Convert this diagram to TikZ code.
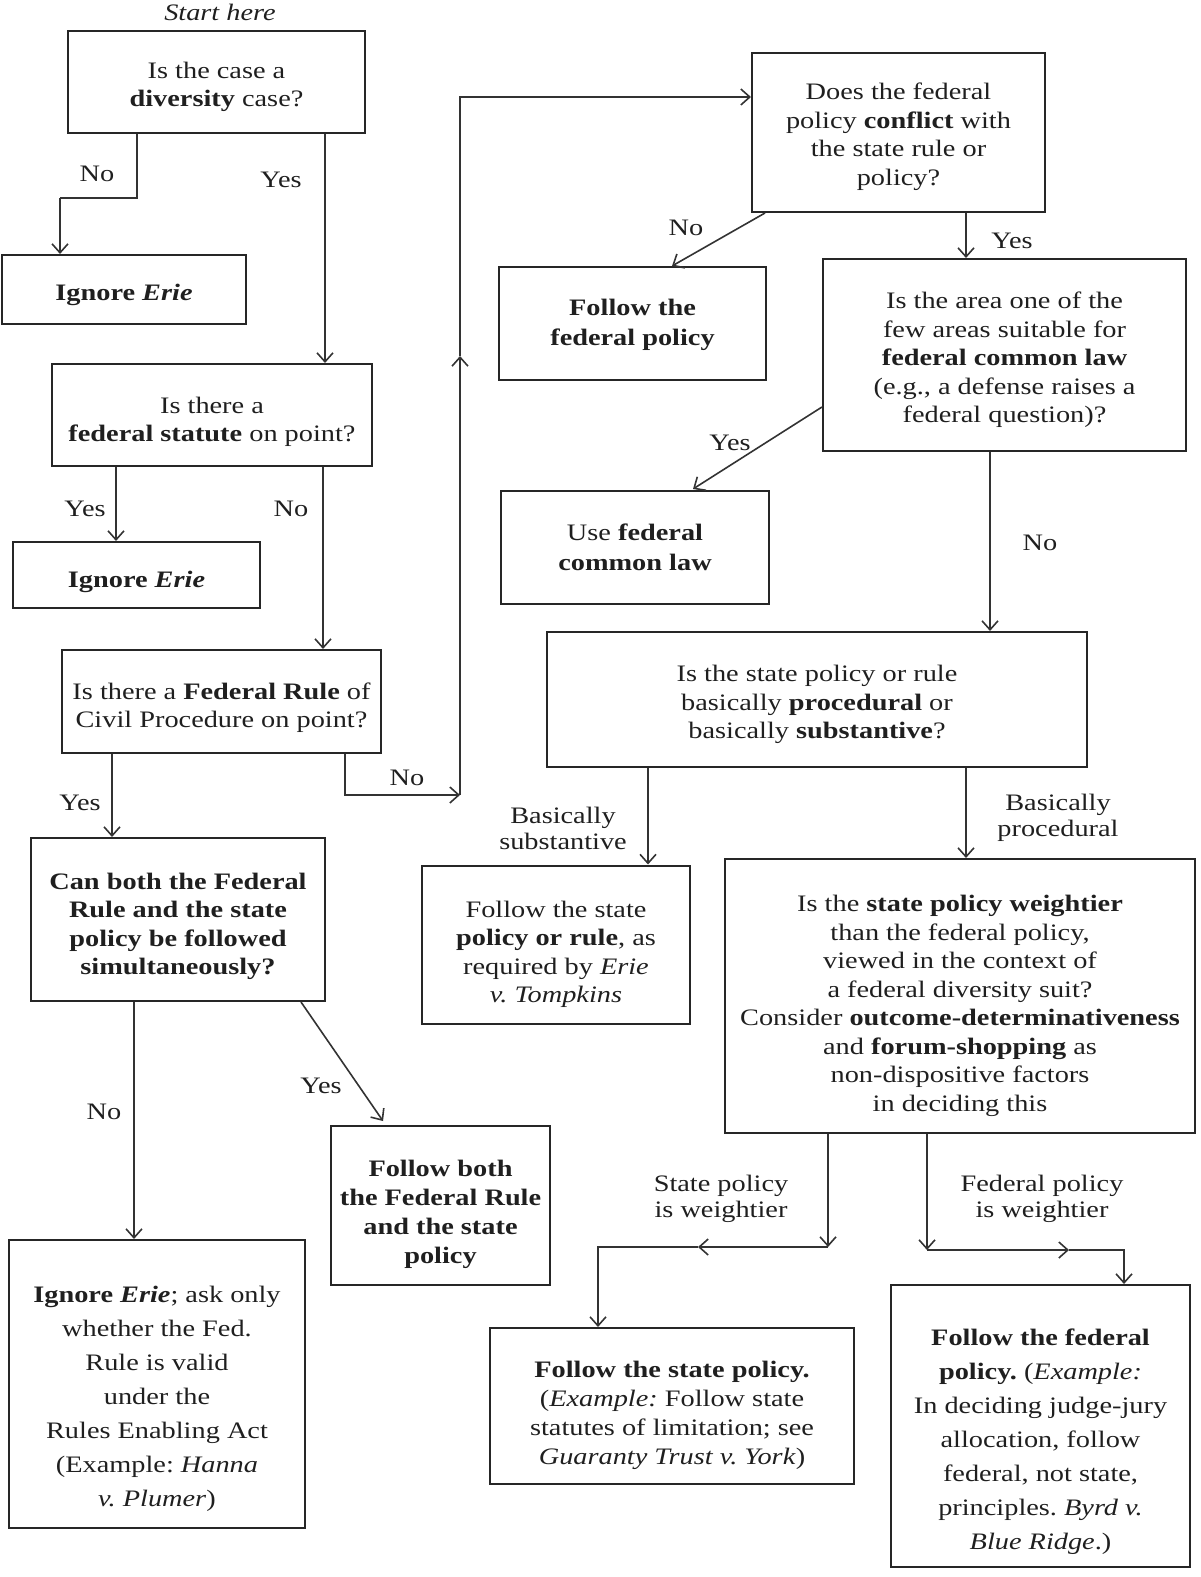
\documentclass[tikz,border=0pt]{standalone}
\usepackage{fontspec}
\setmainfont[FakeStretch=1.2]{Liberation Serif}
\usetikzlibrary{arrows.meta,calc}
\frenchspacing
\begin{document}
\begin{tikzpicture}[x=0.5pt,y=-0.5pt,
  every node/.style={font=\fontsize{11.8}{14.25}\selectfont, text=black!88},
  box/.style={draw=black!85, line width=1pt, inner sep=0pt},
  txt/.style={align=center, inner sep=0pt},
  wide/.style={font=\fontsize{11.8}{17}\selectfont},
  lbl/.style={align=center, inner sep=0pt, font=\fontsize{11.8}{13}\selectfont},
  conn/.style={draw=black!80, line width=0.8pt, -{Straight Barb[length=4.5pt,width=8pt]}},
  plain/.style={draw=black!80, line width=0.8pt}]
\useasboundingbox (0,0) rectangle (1200,1577);

% ---------- boxes ----------
\node[box, minimum width=148.5pt, minimum height=51pt] (A) at (216.5,82) {};
\node[box, minimum width=122pt, minimum height=34.5pt] (ign1) at (124,289.5) {};
\node[box, minimum width=160pt, minimum height=51pt] (B) at (212,415) {};
\node[box, minimum width=123.5pt, minimum height=33pt] (ign2) at (136.5,575) {};
\node[box, minimum width=159.5pt, minimum height=51.5pt] (C) at (221.5,701.5) {};
\node[box, minimum width=147pt, minimum height=81.5pt] (K) at (178,919.5) {};
\node[box, minimum width=148pt, minimum height=144pt] (L) at (157,1384) {};
\node[box, minimum width=109.5pt, minimum height=79.5pt] (M) at (440.5,1205.5) {};
\node[box, minimum width=146.5pt, minimum height=79.5pt] (D) at (898.5,132.5) {};
\node[box, minimum width=133.5pt, minimum height=56.5pt] (E) at (632.5,323.5) {};
\node[box, minimum width=181.5pt, minimum height=96pt] (F) at (1004.5,355) {};
\node[box, minimum width=134pt, minimum height=56.5pt] (G) at (635,547.5) {};
\node[box, minimum width=270pt, minimum height=67.5pt] (H) at (817,699.5) {};
\node[box, minimum width=134pt, minimum height=79pt] (I) at (556,944.5) {};
\node[box, minimum width=235pt, minimum height=137pt] (J) at (960,996) {};
\node[box, minimum width=182pt, minimum height=78pt] (N) at (672,1406) {};
\node[box, minimum width=149.5pt, minimum height=141pt] (O) at (1040.5,1426) {};

% ---------- box texts ----------
\node[lbl, font=\fontsize{11.8}{13}\selectfont\itshape] (start) at (220,12) {Start here};
\node[txt] (At) at ($(A)+(0,5)$) {Is the case a\\\textbf{diversity} case?};
\node[txt] (ign1t) at ($(ign1)+(0,5)$) {\textbf{Ignore \textit{Erie}}};
\node[txt] (Bt) at ($(B)+(0,7)$) {Is there a\\\textbf{federal statute} on point?};
\node[txt] (ign2t) at ($(ign2)+(0,7)$) {\textbf{Ignore \textit{Erie}}};
\node[txt] (Ct) at ($(C)+(0,6)$) {Is there a \textbf{Federal Rule} of\\Civil Procedure on point?};
\node[txt] (Kt) at ($(K)+(0,7)$)
  {\textbf{Can both the Federal}\\\textbf{Rule and the state}\\\textbf{policy be followed}\\\textbf{simultaneously?}};
\node[txt, wide] (Lt) at ($(L)+(0,15)$)
  {\textbf{Ignore \textit{Erie}}; ask only\\whether the Fed.\\Rule is valid\\under the\\Rules Enabling Act\\(Example: \textit{Hanna}\\\textit{v. Plumer})};
\node[txt, font=\fontsize{11.8}{14.5}\selectfont] (Mt) at ($(M)+(0,9)$)
  {\textbf{Follow both}\\\textbf{the Federal Rule}\\\textbf{and the state}\\\textbf{policy}};
\node[txt] (Dt) at ($(D)+(0,4)$)
  {Does the federal\\policy \textbf{conflict} with\\the state rule or\\policy?};
\node[txt, font=\fontsize{11.8}{15}\selectfont] (Et) at ($(E)+(0,1)$)
  {\textbf{Follow the}\\\textbf{federal policy}};
\node[txt] (Ft) at ($(F)+(0,5)$)
  {Is the area one of the\\few areas suitable for\\\textbf{federal common law}\\(e.g., a defense raises a\\federal question)?};
\node[txt, font=\fontsize{11.8}{15}\selectfont] (Gt) at ($(G)+(0,0)$)
  {Use \textbf{federal}\\\textbf{common law}};
\node[txt] (Ht) at ($(H)+(0,5)$)
  {Is the state policy or rule\\basically \textbf{procedural} or\\basically \textbf{substantive}?};
\node[txt] (It) at ($(I)+(0,10)$)
  {Follow the state\\\textbf{policy or rule}, as\\required by \textit{Erie}\\\textit{v. Tompkins}};
\node[txt] (Jt) at ($(J)+(0,10)$)
  {Is the \textbf{state policy weightier}\\than the federal policy,\\viewed in the context of\\a federal diversity suit?\\Consider \textbf{outcome-determinativeness}\\and \textbf{forum-shopping} as\\non-dispositive factors\\in deciding this};
\node[txt, font=\fontsize{11.8}{14.5}\selectfont] (Nt) at ($(N)+(0,9)$)
  {\textbf{Follow the state policy.}\\(\textit{Example:} Follow state\\statutes of limitation; see\\\textit{Guaranty Trust v. York})};
\node[txt, wide] (Ot) at ($(O)+(0,16)$)
  {\textbf{Follow the federal}\\\textbf{policy.} (\textit{Example:}\\In deciding judge-jury\\allocation, follow\\federal, not state,\\principles. \textit{Byrd v.}\\\textit{Blue Ridge}.)};

% ---------- labels ----------
\node[lbl] (lA1) at (97,174) {No};
\node[lbl] (lA2) at (281,180) {Yes};
\node[lbl] (lB1) at (85,509) {Yes};
\node[lbl] (lB2) at (291,509) {No};
\node[lbl] (lC1) at (80,803) {Yes};
\node[lbl] (lC2) at (407,778) {No};
\node[lbl] (lD1) at (686,228) {No};
\node[lbl] (lD2) at (1012,241) {Yes};
\node[lbl] (lF1) at (730,443) {Yes};
\node[lbl] (lF2) at (1040,543) {No};
\node[lbl] (lH1) at (563,828) {Basically\\substantive};
\node[lbl] (lH2) at (1058,818) {Basically\\procedural};
\node[lbl] (lK1) at (104,1112) {No};
\node[lbl] (lK2) at (321,1086) {Yes};
\node[lbl] (lJ1) at (721,1199) {State policy\\is weightier};
\node[lbl] (lJ2) at (1042,1199) {Federal policy\\is weightier};

% ---------- helper coordinates ----------
\coordinate (a1) at (60,198);
\coordinate (cC) at (460,795);
\coordinate (cUp) at (460,356);
\coordinate (cTop) at (460,97);
\coordinate (fg) at (693,489);
\coordinate (km) at (383,1121);
\coordinate (sA) at (828,1247);
\coordinate (sMid) at (698,1247);
\coordinate (sB) at (598,1247);
\coordinate (fA) at (927,1250);
\coordinate (fMid) at (1069,1250);
\coordinate (fB) at (1124,1250);

% ---------- connectors ----------
\draw[plain] (137,0 |- A.south) |- (a1);
\draw[conn] (a1) -- (a1 |- ign1.north);
\draw[conn] (325,0 |- A.south) -- (325,0 |- B.north);
\draw[conn] (116,0 |- B.south) -- (116,0 |- ign2.north);
\draw[conn] (323,0 |- B.south) -- (323,0 |- C.north);
\draw[conn] (112,0 |- C.south) -- (112,0 |- K.north);
\draw[conn] (345,0 |- C.south) |- (cC);
\draw[conn] (cC) -- (cUp);
\draw[conn] (cUp) -- (cTop) -- (D.west |- cTop);
\draw[conn] (765,0 |- D.south) -- (672,0 |- E.north);
\draw[conn] (966,0 |- D.south) -- (966,0 |- F.north);
\draw[conn] (F.west |- 0,407) -- (fg);
\draw[conn] (990,0 |- F.south) -- (990,0 |- H.north);
\draw[conn] (648,0 |- H.south) -- (648,0 |- I.north);
\draw[conn] (966,0 |- H.south) -- (966,0 |- J.north);
\draw[conn] (134,0 |- K.south) -- (134,0 |- L.north);
\draw[conn] (301,0 |- K.south) -- (km);
\draw[conn] (828,0 |- J.south) -- (sA);
\draw[conn] (sA) -- (sMid);
\draw[conn] (sMid) -- (sB) -- (sB |- N.north);
\draw[conn] (927,0 |- J.south) -- (fA);
\draw[conn] (fA) -- (fMid);
\draw[conn] (fMid) -- (fB) -- (fB |- O.north);
\end{tikzpicture}
\end{document}
